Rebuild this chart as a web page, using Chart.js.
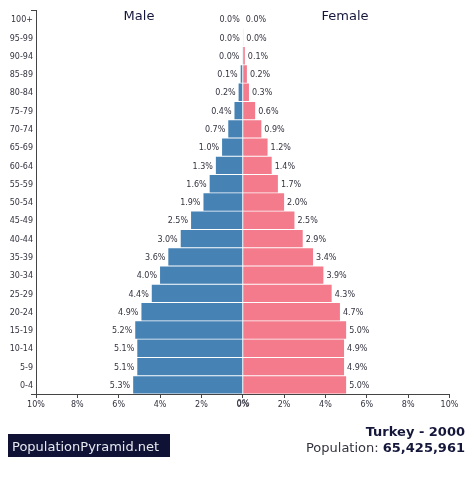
<!DOCTYPE html>
<html>
<head>
<meta charset="utf-8">
<script src="https://cdn.jsdelivr.net/npm/chart.js@4/dist/chart.umd.min.js"></script>
<style>
  html, body { margin: 0; padding: 0; background: #fff; }
  #wrap { position: relative; width: 474px; height: 478px; }
  canvas { display: block; }
</style>
</head>
<body>
<div id="wrap"><canvas id="pyramid" width="474" height="478"></canvas></div>
<script>
const ageGroups = ["100+", "95-99", "90-94", "85-89", "80-84", "75-79", "70-74", "65-69", "60-64", "55-59", "50-54",
  "45-49", "40-44", "35-39", "30-34", "25-29", "20-24", "15-19", "10-14", "5-9", "0-4"];
const maleValues = [0.0, 0.0, 0.02, 0.1, 0.2, 0.4, 0.7, 1.0, 1.3, 1.6, 1.9, 2.5, 3.0, 3.6, 4.0, 4.4, 4.9, 5.2, 5.1, 5.1, 5.3];
const femaleValues = [0.0, 0.03, 0.1, 0.2, 0.3, 0.6, 0.9, 1.2, 1.4, 1.7, 2.0, 2.5, 2.9, 3.4, 3.9, 4.3, 4.7, 5.0, 4.9, 4.9, 5.0];
const xTicks = [-10, -8, -6, -4, -2, 0, 2, 4, 6, 8, 10];

const FONT = '"DejaVu Sans"';
const NAVY = "#14163a";
const GREY = "#333340";

const extras = {
  id: "extras",
  afterDatasetsDraw(chart) {
    const { ctx } = chart;
    const x = chart.scales.x;
    const y = chart.scales.y;

    ctx.save();
    // value labels next to the bars
    ctx.font = "8px " + FONT;
    ctx.fillStyle = GREY;
    ctx.textBaseline = "middle";
    ageGroups.forEach((age, i) => {
      const yPos = y.getPixelForValue(i) + 1;
      ctx.textAlign = "right";
      ctx.fillText(maleValues[i].toFixed(1) + "%", x.getPixelForValue(-maleValues[i]) - 3, yPos);
      ctx.textAlign = "left";
      ctx.fillText(femaleValues[i].toFixed(1) + "%", x.getPixelForValue(femaleValues[i]) + 3, yPos);
    });

    // spine ends at top and bottom of the y axis
    ctx.strokeStyle = "#444";
    ctx.lineWidth = 1;
    ctx.beginPath();
    ctx.moveTo(x.left - 5, y.top + 0.5);
    ctx.lineTo(x.left, y.top + 0.5);
    ctx.moveTo(x.left - 5, y.bottom + 0.5);
    ctx.lineTo(x.left, y.bottom + 0.5);
    ctx.stroke();

    // the two 0% ticks sit on top of each other in the original
    const zeroLabel = x.getLabelItems().find((item) => item.label === "0%");
    ctx.font = "8px " + FONT;
    ctx.fillStyle = GREY;
    ctx.textAlign = "center";
    ctx.textBaseline = "top";
    ctx.fillText("0%", zeroLabel.options.translation[0] + 0.4, zeroLabel.options.translation[1]);

    // panel headings
    ctx.font = "13px " + FONT;
    ctx.fillStyle = NAVY;
    ctx.textBaseline = "alphabetic";
    ctx.fillText("Male", 139, 20);
    ctx.fillText("Female", 345, 20);

    // footer block
    ctx.fillStyle = "#0f1235";
    ctx.fillRect(8, 434, 162, 23);
    ctx.fillStyle = "#e6e8f0";
    ctx.textAlign = "left";
    ctx.fillText("PopulationPyramid.net", 12, 450.5);

    ctx.textAlign = "right";
    ctx.font = "bold 13px " + FONT;
    ctx.fillStyle = NAVY;
    ctx.fillText("Turkey - 2000", 465, 436);
    ctx.fillText("65,425,961", 465, 452);
    const numberWidth = ctx.measureText("65,425,961").width;
    ctx.font = "13px " + FONT;
    ctx.fillStyle = GREY;
    ctx.fillText("Population: ", 465 - numberWidth, 452);
    ctx.restore();
  },
};

new Chart(document.getElementById("pyramid").getContext("2d"), {
  type: "bar",
  data: {
    labels: ageGroups,
    datasets: [
      { label: "Male", data: maleValues.map((v) => -v), backgroundColor: "#4682b4" },
      { label: "Female", data: femaleValues, backgroundColor: "#f37b8c" },
    ],
  },
  options: {
    indexAxis: "y",
    responsive: false,
    animation: false,
    devicePixelRatio: 1,
    barPercentage: 0.95,
    categoryPercentage: 1,
    layout: { padding: { top: 10, right: 24.5, left: 0, bottom: 68 } },
    plugins: { legend: { display: false }, tooltip: { enabled: false } },
    scales: {
      x: {
        stacked: true,
        min: -10,
        max: 10,
        afterBuildTicks: (scale) => {
          scale.ticks = xTicks.map((v) => ({ value: v }));
        },
        afterFit: (scale) => { scale.height = 16; },
        grid: { drawOnChartArea: false, tickLength: 4, color: "#444" },
        border: { color: "#444", width: 1 },
        ticks: {
          color: GREY,
          autoSkip: false,
          font: { family: FONT, size: 8 },
          maxRotation: 0,
          padding: 2,
          callback: (value) => Math.abs(value) + "%",
        },
      },
      y: {
        stacked: true,
        afterFit: (scale) => { scale.width = 36; },
        grid: { display: false, drawTicks: false, tickLength: 0 },
        border: { color: "#444", width: 1 },
        ticks: {
          color: GREY,
          autoSkip: false,
          font: { family: FONT, size: 8 },
          padding: 3,
          labelOffset: 1,
        },
      },
    },
  },
  plugins: [extras],
});
</script>
</body>
</html>
